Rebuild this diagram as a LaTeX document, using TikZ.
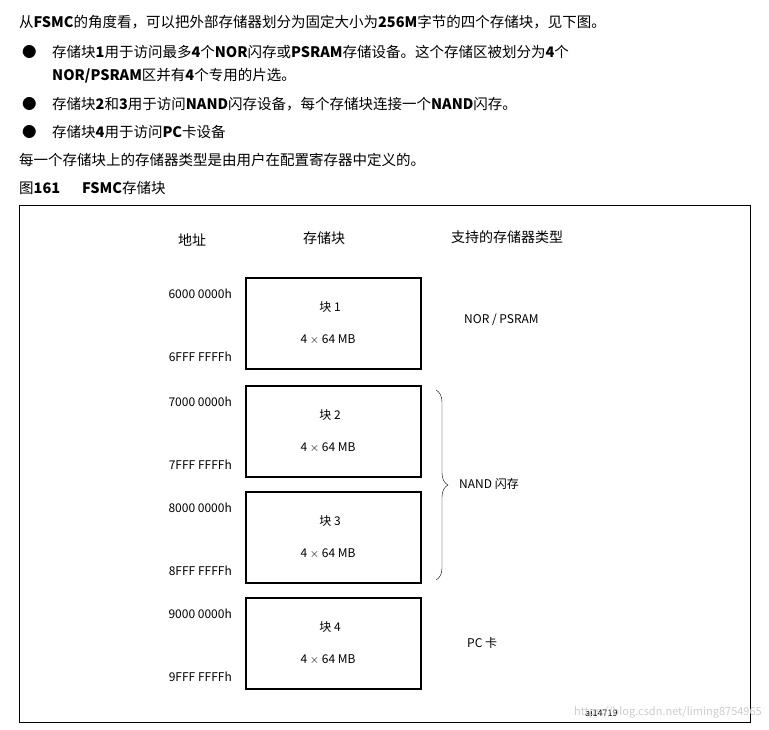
\documentclass[tikz,border=0pt]{standalone}
\usepackage{fontspec}
\setmainfont{Noto Sans CJK SC}
\usetikzlibrary{decorations.pathreplacing}
\begin{document}
\begin{tikzpicture}[x=1pt,y=-1pt,
  para/.style={anchor=west,inner sep=0,font=\fontsize{14.5}{16}\selectfont},
  dia/.style={inner sep=0,font=\fontsize{12}{14}\selectfont},
  blk/.style={draw,line width=1.5pt},
  addr/.style={dia,anchor=east}]
\useasboundingbox (0,0) rectangle (769,730);
\node[para] (t1) at (19,22) {从\textbf{FSMC}的角度看，可以把外部存储器划分为固定大小为\textbf{256M}字节的四个存储块，见下图。};
\node[para] (b1) at (22,52) {●};
\node[para] (t2) at (52,52) {存储块\textbf{1}用于访问最多\textbf{4}个\textbf{NOR}闪存或\textbf{PSRAM}存储设备。这个存储区被划分为\textbf{4}个};
\node[para] (t3) at (52,76) {\textbf{NOR/PSRAM}区并有\textbf{4}个专用的片选。};
\node[para] (b2) at (22,104) {●};
\node[para] (t4) at (52,104) {存储块\textbf{2}和\textbf{3}用于访问\textbf{NAND}闪存设备，每个存储块连接一个\textbf{NAND}闪存。};
\node[para] (b3) at (22,132) {●};
\node[para] (t5) at (52,132) {存储块\textbf{4}用于访问\textbf{PC}卡设备};
\node[para] (t6) at (19,160) {每一个存储块上的存储器类型是由用户在配置寄存器中定义的。};
\node[para] (t7) at (19,188) {图\textbf{161}\hspace{22pt}\textbf{FSMC}存储块};
\draw[line width=0.8pt] (19,205) rectangle (750,722);
\node[dia,font=\fontsize{14}{16}\selectfont] (h1) at (192,240) {地址};
\node[dia,font=\fontsize{14}{16}\selectfont] (h2) at (324,238) {存储块};
\node[dia,font=\fontsize{14}{16}\selectfont] (h3) at (507,237) {支持的存储器类型};
\foreach \n/\y/\k/\a/\b in {1/278/1/6000 0000h/6FFF FFFFh,2/386/2/7000 0000h/7FFF FFFFh,3/492/3/8000 0000h/8FFF FFFFh,4/598/4/9000 0000h/9FFF FFFFh}{
  \draw[blk] (246,\y) rectangle (421,\y+91);
  \node[dia] (k\n) at (330,\y+29) {块 \k};
  \node[dia] (m\n) at (328,\y+62) {4 $\times$ 64 MB};
  \node[addr] (s\n) at (232,\y+16) {\a};
  \node[addr] (e\n) at (232,\y+79) {\b};
}
\node[dia,anchor=west] (n1) at (464,320) {NOR / PSRAM};
\node[dia,anchor=west] (n2) at (459,484) {NAND 闪存};
\node[dia,anchor=west] (n3) at (467,643) {PC 卡};
\coordinate (bt) at (436,390);
\coordinate (bb) at (436,580);
\draw[decorate,decoration={brace,amplitude=12pt}] (bt) -- (bb);
\node[dia,anchor=west,font=\fontsize{9}{11}\selectfont] (ai) at (585,713) {ai14719};
\node[dia,anchor=east,text=black!20,font=\fontsize{11}{13}\selectfont] (wm) at (762,712) {https://blog.csdn.net/liming8754965};
\end{tikzpicture}
\end{document}
